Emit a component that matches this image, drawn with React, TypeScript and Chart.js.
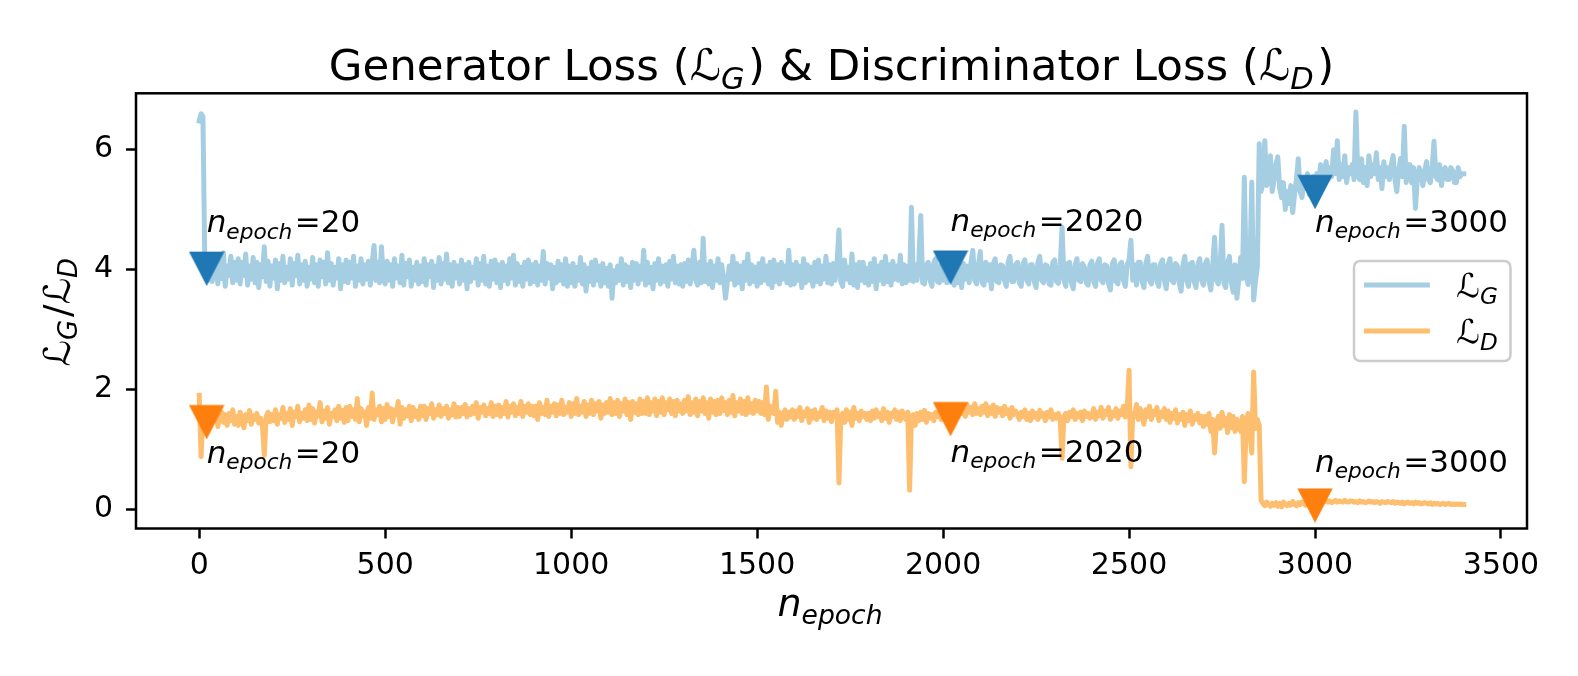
import { useEffect, useRef } from "react";
import { Chart, registerables } from "chart.js";

Chart.register(...registerables);

// ---- data (epoch grid step 5, from 0 to 3400; 20 values per 100 epochs) ----
const EPOCH_STEP = 5;

const lossG = [
  6.48, 6.6, 6.55, 4.1, 4.02, 3.82, 4.2, 3.8, 4.1, 4.25, 3.76, 4.16, 3.85, 4.28, 3.72, 4.06, 3.9, 4.22, 3.78, 4.12,
  3.82, 4.18, 3.76, 4.12, 3.9, 4.26, 3.74, 4.06, 3.84, 4.2, 3.78, 4.12, 3.7, 4.08, 3.88, 4.38, 3.8, 4.14, 3.72, 4.06,
  3.86, 4.16, 3.68, 4.1, 3.82, 4.22, 3.78, 4.04, 3.84, 4.18, 3.74, 4.1, 3.9, 4.24, 3.76, 4.08, 3.82, 4.14, 3.72, 4.04,
  3.84, 4.2, 3.78, 4.08, 3.72, 4.16, 3.88, 4.12, 3.76, 4.28, 3.82, 4.1, 3.74, 4.04, 3.86, 4.18, 3.68, 4.08, 3.8, 4.16,
  3.78, 4.12, 3.86, 4.22, 3.72, 4.06, 3.82, 4.18, 3.76, 4.08, 3.84, 4.14, 3.74, 4.1, 4.4, 3.82, 4.12, 3.78, 4.38, 3.84,
  3.76, 4.14, 3.82, 4.08, 3.72, 4.18, 3.86, 4.06, 3.78, 4.24, 3.74, 4.1, 3.88, 4.16, 3.72, 4.04, 3.82, 4.12, 3.76, 4.06,
  3.8, 4.18, 3.74, 4.08, 3.88, 4.14, 3.7, 4.06, 3.82, 4.2, 3.76, 4.1, 3.84, 4.26, 3.78, 4.08, 3.72, 4.12, 3.86, 4.06,
  3.76, 4.16, 3.82, 4.08, 3.68, 4.12, 3.8, 4.04, 3.86, 4.18, 3.74, 4.1, 3.82, 4.22, 3.76, 4.06, 3.72, 4.14, 3.84, 4.16,
  3.78, 4.08, 3.7, 4.12, 3.82, 4.06, 3.76, 4.18, 3.86, 4.24, 3.74, 4.1, 3.8, 4.04, 3.72, 4.12, 3.84, 4.16, 3.76, 4.08,
  3.8, 4.12, 3.74, 4.06, 3.82, 4.3, 3.76, 4.1, 3.86, 4.08, 3.68, 4.04, 3.78, 4.14, 3.82, 4.08, 3.76, 4.18, 3.72, 4.06,
  3.78, 4.1, 3.72, 4.04, 3.82, 4.2, 3.76, 4.08, 3.64, 4.02, 3.8, 4.12, 3.74, 4.16, 3.82, 4.06, 3.72, 4.1, 3.78, 4.02,
  3.72, 4.08, 3.52, 3.98, 3.78, 4.06, 3.82, 4.18, 3.74, 4.08, 3.8, 4.04, 3.7, 4.12, 3.82, 4.1, 3.76, 4.06, 3.84, 4.32,
  3.74, 4.12, 3.78, 4.04, 3.68, 4.1, 3.82, 4.18, 3.76, 4.06, 3.8, 4.08, 3.72, 4.14, 3.84, 4.22, 3.78, 4.06, 3.76, 4.08,
  3.72, 4.1, 3.8, 4.16, 3.76, 4.04, 4.32, 3.82, 3.74, 4.12, 3.78, 4.52, 3.8, 4.08, 3.76, 4.14, 3.7, 4.06, 3.82, 4.18,
  3.78, 4.08, 3.82, 3.52, 3.8, 4.06, 3.84, 4.22, 3.74, 4.1, 3.78, 4.06, 3.68, 4.12, 3.82, 4.26, 3.76, 4.08, 3.8, 4.04,
  3.72, 4.1, 3.78, 4.18, 3.82, 4.06, 3.76, 4.12, 3.7, 4.16, 3.8, 4.08, 3.76, 4.12, 3.84, 4.06, 3.78, 4.32, 3.74, 4.08,
  3.76, 4.12, 3.82, 4.06, 3.7, 4.18, 3.78, 4.08, 3.82, 4.04, 3.72, 4.12, 3.8, 4.16, 3.76, 4.06, 3.84, 4.22, 3.78, 4.08,
  3.76, 4.1, 3.82, 4.12, 4.66, 3.8, 3.72, 4.16, 3.84, 4.04, 3.78, 4.26, 3.74, 4.08, 3.7, 4.12, 3.82, 4.12, 3.78, 4.02,
  3.74, 4.1, 3.8, 4.18, 3.68, 4.06, 3.82, 4.12, 3.76, 4.22, 3.8, 4.08, 3.74, 4.14, 3.84, 4.06, 3.82, 4.24, 3.76, 4.08,
  3.78, 4.06, 3.82, 5.04, 3.8, 4.08, 3.82, 4.16, 4.9, 3.78, 3.76, 4.08, 4.12, 3.82, 3.72, 4.12, 4.18, 3.8, 3.78, 4.08,
  3.82, 4.08, 3.78, 4.14, 4.04, 3.82, 3.74, 4.16, 3.78, 4.06, 3.7, 4.1, 3.84, 4.06, 3.78, 4.12, 4.32, 3.82, 3.76, 4.08,
  4.3, 3.78, 3.74, 4.12, 3.82, 4.08, 3.68, 4.1, 4.18, 3.8, 3.78, 4.08, 4.06, 3.82, 3.72, 4.12, 4.22, 3.8, 3.8, 4.08,
  4.12, 3.78, 3.72, 4.1, 4.16, 3.82, 3.76, 4.08, 4.08, 3.8, 3.7, 4.12, 4.22, 3.82, 3.78, 4.08, 4.06, 3.76, 3.74, 4.12,
  4.16, 3.8, 3.77, 4.08, 4.71, 3.82, 3.72, 4.1, 4.12, 3.78, 3.68, 4.08, 4.18, 3.82, 3.8, 4.1, 4.04, 3.78, 3.74, 4.08,
  4.14, 3.8, 3.72, 4.1, 4.18, 3.82, 3.78, 4.08, 4.06, 3.76, 3.66, 4.1, 4.16, 3.8, 3.76, 4.08, 4.12, 3.82, 3.72, 4.08,
  4.16, 4.49, 3.82, 4.08, 3.74, 4.12, 4.12, 3.8, 3.7, 4.1, 4.22, 3.82, 3.76, 4.08, 4.08, 3.8, 3.72, 4.1, 4.16, 3.82,
  3.68, 4.08, 4.18, 3.82, 3.78, 4.1, 4.06, 3.78, 3.64, 4.08, 4.22, 3.82, 3.72, 4.1, 4.12, 3.8, 3.7, 4.08, 4.18, 3.82,
  3.74, 4.1, 4.16, 3.8, 3.66, 4.08, 4.54, 3.82, 3.76, 4.08, 4.74, 3.78, 3.7, 4.1, 4.22, 3.8, 3.62, 4.08, 3.52, 3.82,
  4.2, 3.85, 5.54, 3.9, 3.75, 4.1, 5.46, 3.49, 3.8, 4.05, 6.1, 5.3, 5.45, 6.15, 5.4, 5.6, 5.9, 5.3, 5.5, 5.75,
  5.88, 5.35, 5.2, 5.45, 5.0, 5.3, 5.1, 5.4, 4.95, 5.25, 5.5, 5.85, 5.3, 5.2, 5.5, 5.35, 5.6, 5.25, 5.45, 5.55,
  5.3, 5.6, 5.45, 5.75, 5.4, 5.65, 5.8, 5.5, 5.7, 5.55, 6.0, 5.6, 6.15, 5.5, 5.75, 5.55, 5.9, 5.45, 5.7, 5.6,
  5.75, 5.5, 6.63, 5.6, 5.5, 5.85, 5.45, 5.7, 5.4, 5.9, 5.55, 5.75, 5.6, 5.95, 5.5, 5.7, 5.35, 5.8, 5.55, 5.7,
  5.5, 5.75, 5.9, 5.5, 5.3, 5.65, 5.85, 5.55, 6.39, 5.45, 5.6, 5.75, 5.45, 5.7, 5.02, 5.5, 5.7, 5.6, 5.4, 5.65,
  5.8, 5.5, 5.45, 5.7, 6.14, 5.55, 5.5, 5.75, 5.4, 5.65, 5.7, 5.5, 5.5, 5.7, 5.65, 5.45, 5.45, 5.7, 5.55, 5.6,
  5.6,
];

const lossD = [
  1.9, 0.88, 1.6, 1.52, 1.46, 1.62, 1.4, 1.58, 1.5, 1.66, 1.38, 1.55, 1.62, 1.45, 1.58, 1.4, 1.6, 1.48, 1.66, 1.42,
  1.55, 1.4, 1.62, 1.5, 1.36, 1.58, 1.48, 1.65, 1.42, 1.56, 1.5, 1.6, 1.44, 1.52, 1.38, 0.9, 1.55, 1.62, 1.46, 1.58,
  1.48, 1.66, 1.42, 1.58, 1.52, 1.7, 1.45, 1.6, 1.5, 1.68, 1.4, 1.62, 1.55, 1.72, 1.46, 1.6, 1.52, 1.66, 1.48, 1.74,
  1.5, 1.68, 1.44, 1.62, 1.56, 1.78, 1.46, 1.64, 1.52, 1.7, 1.42, 1.6, 1.55, 1.66, 1.48, 1.72, 1.52, 1.65, 1.45, 1.7,
  1.48, 1.72, 1.55, 1.66, 1.5, 1.85, 1.46, 1.68, 1.56, 1.62, 1.4, 1.7, 1.52, 1.94, 1.5, 1.66, 1.58, 1.72, 1.46, 1.68,
  1.5, 1.75, 1.55, 1.68, 1.46, 1.66, 1.58, 1.8, 1.42, 1.7, 1.52, 1.66, 1.56, 1.72, 1.48, 1.7, 1.55, 1.64, 1.5, 1.72,
  1.56, 1.72, 1.5, 1.68, 1.6, 1.76, 1.52, 1.66, 1.58, 1.74, 1.55, 1.68, 1.6, 1.72, 1.52, 1.66, 1.58, 1.76, 1.54, 1.7,
  1.55, 1.7, 1.6, 1.75, 1.54, 1.68, 1.58, 1.72, 1.6, 1.78, 1.52, 1.7, 1.62, 1.74, 1.56, 1.68, 1.6, 1.78, 1.55, 1.72,
  1.58, 1.74, 1.55, 1.7, 1.6, 1.8, 1.54, 1.72, 1.62, 1.76, 1.56, 1.7, 1.6, 1.8, 1.55, 1.72, 1.62, 1.76, 1.58, 1.72,
  1.56, 1.72, 1.5, 1.78, 1.6, 1.7, 1.58, 1.82, 1.55, 1.72, 1.62, 1.76, 1.56, 1.74, 1.6, 1.82, 1.58, 1.7, 1.62, 1.78,
  1.55, 1.76, 1.6, 1.85, 1.58, 1.72, 1.62, 1.8, 1.55, 1.74, 1.6, 1.82, 1.58, 1.76, 1.64, 1.8, 1.52, 1.74, 1.6, 1.78,
  1.62, 1.85, 1.58, 1.78, 1.6, 1.82, 1.55, 1.76, 1.64, 1.84, 1.58, 1.78, 1.5, 1.8, 1.62, 1.76, 1.58, 1.84, 1.6, 1.8,
  1.6, 1.86, 1.58, 1.78, 1.64, 1.84, 1.56, 1.8, 1.62, 1.86, 1.58, 1.78, 1.66, 1.84, 1.6, 1.8, 1.56, 1.82, 1.64, 1.76,
  1.6, 1.82, 1.64, 1.88, 1.58, 1.78, 1.62, 1.84, 1.56, 1.8, 1.64, 1.86, 1.6, 1.78, 1.52, 1.84, 1.62, 1.8, 1.58, 1.82,
  1.6, 1.86, 1.65, 1.78, 1.58, 1.82, 1.62, 1.9, 1.56, 1.78, 1.64, 1.84, 1.6, 1.8, 1.58, 1.86, 1.62, 1.76, 1.6, 1.82,
  1.64, 1.8, 1.6, 1.78, 1.58, 2.04, 1.5, 1.72, 1.62, 1.6, 1.97, 1.45, 1.62, 1.4, 1.58, 1.66, 1.5, 1.62, 1.54, 1.66,
  1.5, 1.64, 1.55, 1.7, 1.48, 1.62, 1.56, 1.68, 1.45, 1.64, 1.52, 1.66, 1.5, 1.6, 1.55, 1.7, 1.48, 1.64, 1.52, 1.62,
  1.46, 1.62, 1.55, 1.66, 0.44, 1.52, 1.6, 1.45, 1.66, 1.5, 1.62, 1.4, 1.7, 1.52, 1.6, 1.48, 1.64, 1.55, 1.6, 1.5,
  1.6, 1.48, 1.64, 1.52, 1.66, 1.55, 1.6, 1.48, 1.68, 1.52, 1.62, 1.45, 1.6, 1.55, 1.66, 1.5, 1.62, 1.48, 1.64, 1.55,
  1.5, 1.62, 0.32, 1.55, 1.58, 1.4, 1.6, 1.48, 1.62, 1.5, 1.65, 1.45, 1.6, 1.52, 1.58, 1.48, 1.62, 1.55, 1.6, 1.5,
  1.6, 1.5, 1.55, 1.62, 1.51, 1.66, 1.58, 1.7, 1.55, 1.72, 1.6, 1.68, 1.55, 1.74, 1.62, 1.7, 1.58, 1.76, 1.6, 1.68,
  1.58, 1.72, 1.62, 1.76, 1.56, 1.7, 1.6, 1.74, 1.55, 1.7, 1.62, 1.68, 1.56, 1.72, 1.6, 1.66, 1.52, 1.7, 1.58, 1.64,
  1.58, 1.5, 1.62, 1.55, 1.66, 1.5, 1.6, 1.48, 1.64, 1.54, 1.6, 1.5, 1.65, 1.55, 1.6, 1.48, 1.62, 1.54, 1.66, 1.5,
  1.58, 1.52, 1.6, 1.5, 0.85, 1.55, 1.6, 1.48, 1.62, 1.55, 1.66, 1.5, 1.6, 1.54, 1.62, 1.48, 1.64, 1.55, 1.6, 1.52,
  1.55, 1.68, 1.5, 1.62, 1.56, 1.7, 1.52, 1.64, 1.58, 1.7, 1.5, 1.62, 1.56, 1.68, 1.52, 1.64, 1.58, 1.72, 1.54, 1.66,
  2.32, 0.71, 1.6, 1.55, 1.75, 1.5, 1.68, 1.56, 1.42, 1.66, 1.55, 1.72, 1.5, 1.64, 1.58, 1.7, 1.48, 1.62, 1.55, 1.68,
  1.5, 1.64, 1.45, 1.6, 1.52, 1.66, 1.44, 1.58, 1.5, 1.62, 1.4, 1.58, 1.48, 1.64, 1.42, 1.56, 1.5, 1.6, 1.44, 1.55,
  1.38, 1.55, 1.42, 1.6, 1.3, 1.5, 0.94, 1.45, 1.55, 1.35, 1.62, 1.4, 1.52, 1.28, 1.58, 1.36, 1.55, 1.3, 1.5, 1.4,
  1.3, 1.55, 0.46, 1.4, 1.6, 1.3, 0.94, 2.29, 1.35, 1.5, 1.4, 0.15, 0.1, 0.06, 0.12, 0.08, 0.05, 0.1, 0.07, 0.11,
  0.05, 0.1, 0.04, 0.12, 0.08, 0.06, 0.1, 0.07, 0.13, 0.09, 0.06, 0.11, 0.08, 0.12, 0.1, 0.07, 0.11, 0.09, 0.12, 0.1,
  0.07, 0.12, 0.1, 0.14, 0.11, 0.13, 0.15, 0.12, 0.14, 0.11, 0.13, 0.15, 0.12, 0.14, 0.13, 0.12, 0.15, 0.13, 0.12, 0.14,
  0.14, 0.12, 0.13, 0.11, 0.14, 0.12, 0.13, 0.11, 0.12, 0.14, 0.12, 0.13, 0.11, 0.13, 0.12, 0.1, 0.13, 0.12, 0.11, 0.13,
  0.12, 0.11, 0.13, 0.1, 0.12, 0.11, 0.1, 0.12, 0.09, 0.11, 0.12, 0.1, 0.11, 0.09, 0.12, 0.1, 0.11, 0.09, 0.1, 0.11,
  0.1, 0.09, 0.11, 0.08, 0.1, 0.09, 0.1, 0.08, 0.09, 0.1, 0.08, 0.09, 0.1, 0.08, 0.09, 0.08, 0.09, 0.08, 0.09, 0.08,
  0.08,
];

const epochs = lossG.map((_, i) => i * EPOCH_STEP);
const markerEpochs = [20, 2020, 3000];
const xTickValues = [0, 500, 1000, 1500, 2000, 2500, 3000, 3500];
const yTickValues = [0, 2, 4, 6];

// ---- styles ----
const FONT = '"DejaVu Sans"';
const COLOR_G = "#a6cee3";
const COLOR_D = "#fdbf6f";
const COLOR_GM = "#1f77b4";
const COLOR_DM = "#ff7f0e";
const LINE_W = 5;

// annotation text offsets (value units) relative to each marker
const offsetG = [0.6, 0.6, -0.67];
const offsetD = [-0.68, -0.72, 0.56];

type Seg = { t: string; it?: boolean; sub?: boolean };

function segFont(s: Seg, size: number) {
  const sz = s.sub ? size * 0.7 : size;
  return `${s.it ? "italic " : ""}${sz}px ${FONT}`;
}
function measureMath(ctx: CanvasRenderingContext2D, segs: Seg[], size: number) {
  let w = 0;
  for (const s of segs) {
    ctx.font = segFont(s, size);
    w += ctx.measureText(s.t).width + (s.sub ? size * 0.08 : 0);
  }
  return w;
}
function drawMath(
  ctx: CanvasRenderingContext2D,
  segs: Seg[],
  x: number,
  y: number,
  size: number,
  align: "left" | "center" = "left"
) {
  const w = measureMath(ctx, segs, size);
  let cx = align === "center" ? x - w / 2 : x;
  ctx.textAlign = "left";
  ctx.textBaseline = "alphabetic";
  ctx.fillStyle = "#000";
  for (const s of segs) {
    ctx.font = segFont(s, size);
    ctx.fillText(s.t, cx, y + (s.sub ? size * 0.2 : 0));
    cx += ctx.measureText(s.t).width + (s.sub ? size * 0.08 : 0);
  }
  return w;
}

function triangleImage(color: string) {
  const c = document.createElement("canvas");
  c.width = 36;
  c.height = 35;
  const g = c.getContext("2d")!;
  g.fillStyle = color;
  g.strokeStyle = color;
  g.lineWidth = 1.5;
  g.beginPath();
  g.moveTo(1.5, 1.5);
  g.lineTo(34.5, 1.5);
  g.lineTo(18, 33.5);
  g.closePath();
  g.fill();
  g.stroke();
  return c;
}

const overlayPlugin = {
  id: "overlay",
  afterDatasetsDraw(chart: any) {
    const ctx: CanvasRenderingContext2D = chart.ctx;
    const { left, right, top, bottom } = chart.chartArea;
    const xs = chart.scales.x;
    const ys = chart.scales.y;
    ctx.save();
    ctx.strokeStyle = "#000";
    ctx.lineWidth = 2.5;
    ctx.strokeRect(left, top, right - left, bottom - top);
    const annSize = 31;
    markerEpochs.forEach((e, k) => {
      const idx = epochs.indexOf(e);
      const px = xs.getPixelForValue(e);
      const segs: Seg[] = [
        { t: "n", it: true },
        { t: "epoch", it: true, sub: true },
        { t: "=" + String(e) },
      ];
      drawMath(ctx, segs, px, ys.getPixelForValue(lossG[idx] + offsetG[k]), annSize);
      drawMath(ctx, segs, px, ys.getPixelForValue(lossD[idx] + offsetD[k]), annSize);
    });
    ctx.restore();
  },
  afterDraw(chart: any) {
    const ctx: CanvasRenderingContext2D = chart.ctx;
    const { left, right, top, bottom } = chart.chartArea;
    const cx = (left + right) / 2;
    const cy = (top + bottom) / 2;
    ctx.save();
    drawMath(
      ctx,
      [
        { t: "Generator Loss (" },
        { t: "ℒ" },
        { t: "G", it: true, sub: true },
        { t: ") & Discriminator Loss (" },
        { t: "ℒ" },
        { t: "D", it: true, sub: true },
        { t: ")" },
      ],
      cx,
      80,
      43.5,
      "center"
    );
    drawMath(ctx, [{ t: "n", it: true }, { t: "epoch", it: true, sub: true }], cx, 616, 38, "center");
    ctx.save();
    ctx.translate(70, cy);
    ctx.rotate(-Math.PI / 2);
    drawMath(
      ctx,
      [{ t: "ℒ" }, { t: "G", it: true, sub: true }, { t: "/ℒ" }, { t: "D", it: true, sub: true }],
      0,
      0,
      37,
      "center"
    );
    ctx.restore();
    // legend
    const f = 33;
    const entries = [
      { c: COLOR_G, segs: [{ t: "ℒ" }, { t: "G", it: true, sub: true }] as Seg[] },
      { c: COLOR_D, segs: [{ t: "ℒ" }, { t: "D", it: true, sub: true }] as Seg[] },
    ];
    const tw = Math.max(...entries.map((en) => measureMath(ctx, en.segs, f)));
    const bw = 0.3 * f + 2 * f + 0.8 * f + tw + 0.3 * f;
    const bh = 100;
    const bx = right - 0.5 * f - bw;
    const by = cy - bh / 2;
    const r = 7;
    ctx.beginPath();
    ctx.moveTo(bx + r, by);
    ctx.lineTo(bx + bw - r, by);
    ctx.quadraticCurveTo(bx + bw, by, bx + bw, by + r);
    ctx.lineTo(bx + bw, by + bh - r);
    ctx.quadraticCurveTo(bx + bw, by + bh, bx + bw - r, by + bh);
    ctx.lineTo(bx + r, by + bh);
    ctx.quadraticCurveTo(bx, by + bh, bx, by + bh - r);
    ctx.lineTo(bx, by + r);
    ctx.quadraticCurveTo(bx, by, bx + r, by);
    ctx.closePath();
    ctx.fillStyle = "rgba(255,255,255,0.8)";
    ctx.fill();
    ctx.strokeStyle = "#cccccc";
    ctx.lineWidth = 2.5;
    ctx.stroke();
    entries.forEach((en, i) => {
      const rowY = by + 24 + i * 46;
      ctx.strokeStyle = en.c;
      ctx.lineWidth = LINE_W;
      ctx.lineCap = "butt";
      ctx.beginPath();
      ctx.moveTo(bx + 0.3 * f, rowY);
      ctx.lineTo(bx + 0.3 * f + 2 * f, rowY);
      ctx.stroke();
      drawMath(ctx, en.segs, bx + 0.3 * f + 2.8 * f, rowY + 12, f);
    });
    ctx.restore();
  },
};

export default function App() {
  const ref = useRef<HTMLCanvasElement | null>(null);
  useEffect(() => {
    if (!ref.current) return;
    const triG = triangleImage(COLOR_GM);
    const triD = triangleImage(COLOR_DM);
    const gridOpts = {
      display: true,
      drawOnChartArea: false,
      drawTicks: true,
      tickLength: 10,
      tickWidth: 2.5,
      tickColor: "#000",
    };
    const chart = new Chart(ref.current, {
      type: "line",
      data: {
        datasets: [
          {
            type: "scatter",
            label: "markerG",
            data: markerEpochs.map((e) => ({ x: e, y: lossG[epochs.indexOf(e)] })),
            pointStyle: triG as any,
            pointRadius: 10,
            order: 0,
          } as any,
          {
            type: "scatter",
            label: "markerD",
            data: markerEpochs.map((e) => ({ x: e, y: lossD[epochs.indexOf(e)] })),
            pointStyle: triD as any,
            pointRadius: 10,
            order: 0,
          } as any,
          {
            label: "L_D",
            data: epochs.map((e, i) => ({ x: e, y: lossD[i] })),
            borderColor: COLOR_D,
            borderWidth: LINE_W,
            pointRadius: 0,
            tension: 0,
            borderJoinStyle: "round",
            borderCapStyle: "square",
            order: 1,
          },
          {
            label: "L_G",
            data: epochs.map((e, i) => ({ x: e, y: lossG[i] })),
            borderColor: COLOR_G,
            borderWidth: LINE_W,
            pointRadius: 0,
            tension: 0,
            borderJoinStyle: "round",
            borderCapStyle: "square",
            order: 2,
          },
        ],
      },
      options: {
        animation: false,
        responsive: false,
        devicePixelRatio: 1,
        layout: { padding: { top: 93.3, right: 1578 - 1527, left: 0, bottom: 0 } },
        plugins: { legend: { display: false }, title: { display: false }, tooltip: { enabled: false } },
        events: [],
        scales: {
          x: {
            type: "linear",
            min: -170,
            max: 3570,
            afterBuildTicks: (s: any) => {
              s.ticks = xTickValues.map((v) => ({ value: v }));
            },
            afterFit: (s: any) => {
              s.height = 676 - 528.5;
            },
            ticks: {
              callback: (v: any) => String(v),
              font: { family: FONT, size: 30 },
              color: "#000",
              padding: 10,
              autoSkip: false,
              maxRotation: 0,
            },
            grid: gridOpts,
            border: { display: false },
          },
          y: {
            type: "linear",
            min: -0.32,
            max: 6.94,
            afterBuildTicks: (s: any) => {
              s.ticks = yTickValues.map((v) => ({ value: v }));
            },
            afterFit: (s: any) => {
              s.width = 136;
            },
            ticks: {
              callback: (v: any) => String(v),
              font: { family: FONT, size: 30 },
              color: "#000",
              padding: 13,
              autoSkip: false,
            },
            grid: gridOpts,
            border: { display: false },
          },
        },
      } as any,
      plugins: [overlayPlugin],
    });
    return () => chart.destroy();
  }, []);
  return (
    <div style={{ position: "absolute", left: 0, top: 0, width: 1578, height: 676, background: "#fff" }}>
      <canvas ref={ref} width={1578} height={676} style={{ width: 1578, height: 676, display: "block" }} />
    </div>
  );
}
